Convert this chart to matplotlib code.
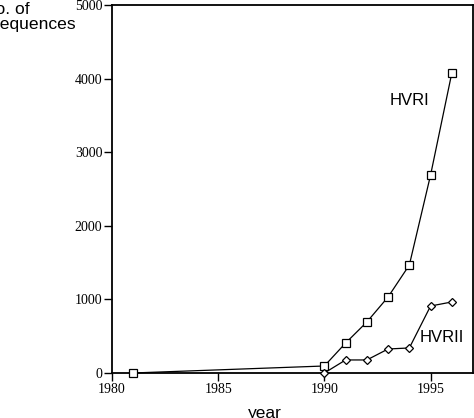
import matplotlib
matplotlib.use("Agg")
import matplotlib.pyplot as plt

hvr1_years = [1981, 1990, 1991, 1992, 1993, 1994, 1995, 1996]
hvr1_counts = [0, 95, 407, 693, 1033, 1467, 2690, 4076]
hvr2_years = [1990, 1991, 1992, 1993, 1994, 1995, 1996]
hvr2_counts = [0, 177, 177, 326, 340, 910, 965]
x_ticks = [1980, 1985, 1990, 1995]
y_ticks = [0, 1000, 2000, 3000, 4000, 5000]

W, H = 474, 418
fig = plt.figure(figsize=(W / 100, H / 100), dpi=100)
ax = fig.add_axes([0.2363, 0.1077, 0.7617, 0.8803])

ax.plot(hvr1_years, hvr1_counts, color="black", lw=0.9, marker="s", ms=5.5,
        mfc="white", mec="black", mew=0.9, clip_on=False, zorder=3)
ax.plot(hvr2_years, hvr2_counts, color="black", lw=0.9, marker="D", ms=4.2,
        mfc="white", mec="black", mew=0.9, clip_on=False, zorder=3)

ax.set_xlim(1980, 1997)
ax.set_ylim(0, 5000)
ax.set_xticks(x_ticks)
ax.set_yticks(y_ticks)
for s in ax.spines.values():
    s.set_linewidth(1.3)
ax.tick_params(direction="out", length=5.5, width=1.0, pad=1.5)
for lab in ax.get_xticklabels() + ax.get_yticklabels():
    lab.set_fontfamily("Liberation Serif")
    lab.set_fontsize(10)

ax.text(1994.03, 3696, "HVRI", ha="center", va="center", fontsize=12,
        family="Liberation Sans")
ax.text(1995.54, 476, "HVRII", ha="center", va="center", fontsize=12,
        family="Liberation Sans")

fig.text(-17 / W, 1 - 13.5 / H, "No. of", ha="left", va="baseline",
         fontsize=12.6, family="Liberation Sans")
fig.text(-9 / W, 1 - 29.5 / H, "sequences", ha="left", va="baseline",
         fontsize=12.6, family="Liberation Sans")
fig.text(265 / W, -0.006, "year", ha="center", va="bottom", fontsize=12.5,
         family="Liberation Sans")

fig.savefig("out.png", dpi=100)
